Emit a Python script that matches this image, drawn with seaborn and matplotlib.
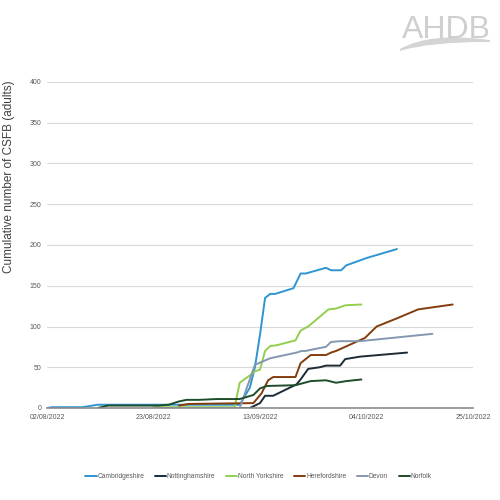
import pandas as pd
import matplotlib
matplotlib.use("Agg")
import matplotlib.pyplot as plt
import matplotlib.dates as mdates
from matplotlib.path import Path
from matplotlib.patches import PathPatch
import seaborn as sns

# days after 02/08/2022 and cumulative counts
start = pd.Timestamp("2022-08-02")

cambs_days = [0, 1, 7, 10, 38, 40, 41, 42, 43, 44, 45, 48.6, 50, 51, 55, 56, 58, 59, 63, 69]
cambs_vals = [0, 1, 1, 4, 4, 25, 50, 90, 135, 140, 140, 147, 165, 165, 172, 169, 169, 175, 184, 195]

notts_days = [32, 40, 42, 43, 44.6, 49.2, 50, 51.5, 53.8, 55, 57.8, 58.8, 61.7, 71]
notts_vals = [0, 0, 6, 15, 15, 29, 35, 48, 50, 52, 52, 60, 63, 68]

nyorks_days = [21, 37, 38, 40, 41, 42, 43, 44, 45.3, 49, 50, 51.5, 55.5, 57, 58.8, 62]
nyorks_vals = [1, 1, 31, 40, 45, 47, 70, 76, 77, 83, 95, 100, 121, 122, 126, 127]

heref_days = [26, 28, 40.7, 42.3, 43.6, 44.6, 49, 50, 52, 55, 56, 57, 62.7, 65, 69, 73.2, 80]
heref_vals = [3, 5, 6, 18, 34, 38, 38, 55, 65, 65, 68, 70, 86, 100, 110, 121, 127]

devon_days = [22, 38, 41, 44, 49.2, 50.2, 51, 52.5, 55, 56, 57.8, 61.7, 76]
devon_vals = [0, 0, 53, 61, 68, 70, 70, 72, 75, 81, 82, 82, 91]

norfolk_days = [10, 12, 22, 24, 26, 27.5, 30, 33.5, 38, 40.7, 42, 43.3, 49, 52, 55, 57, 59, 62]
norfolk_vals = [0, 3, 3, 4, 8, 10, 10, 11, 11, 16, 24, 27, 28, 33, 34, 31, 33, 35]

counties = ["Cambridgeshire", "Nottinghamshire", "North Yorkshire",
            "Herefordshire", "Devon", "Norfolk"]
colours = ["#2E95D0", "#1C2B36", "#92CF4F", "#843C0C", "#8497B0", "#1D4D2A"]

series = [(cambs_days, cambs_vals), (notts_days, notts_vals),
          (nyorks_days, nyorks_vals), (heref_days, heref_vals),
          (devon_days, devon_vals), (norfolk_days, norfolk_vals)]

rows = []
for name, (days, vals) in zip(counties, series):
    for d, v in zip(days, vals):
        rows.append({"date": start + pd.to_timedelta(d, unit="D"), "count": v, "county": name})
df = pd.DataFrame(rows)

sns.set_style("white")
plt.rcParams["font.family"] = ["Liberation Sans", "DejaVu Sans"]

fig = plt.figure(figsize=(5, 5), dpi=100)
ax = fig.add_axes([0.094, 0.184, 0.852, 0.652])

sns.lineplot(data=df, x="date", y="count", hue="county", hue_order=counties,
             palette=dict(zip(counties, colours)), estimator=None, sort=False,
             linewidth=1.4, ax=ax, legend=True)

ax.set_ylim(0, 400)
ax.set_yticks(range(0, 401, 50))
ax.set_xlim(start, start + pd.Timedelta(days=84))
ax.set_xticks([start + pd.Timedelta(days=21 * i) for i in range(5)])
ax.xaxis.set_major_formatter(mdates.DateFormatter("%d/%m/%Y"))
ax.yaxis.grid(True, color="#D9D9D9", linewidth=0.8)
ax.set_axisbelow(True)
for s in ["top", "right", "left"]:
    ax.spines[s].set_visible(False)
ax.spines["bottom"].set_color("#8C8C8C")
ax.spines["bottom"].set_linewidth(1.2)
ax.tick_params(axis="both", length=0, labelsize=5, labelcolor="#595959", pad=4)

ax.set_xlabel("")
ax.set_ylabel("Cumulative number of CSFB (adults)", fontsize=8.5, color="#404040")
ax.yaxis.set_label_coords(-0.075, 0.71)

handles, labels = ax.get_legend_handles_labels()
ax.legend(handles, labels, loc="center", bbox_to_anchor=(0.517, 0.047),
          bbox_transform=fig.transFigure, ncol=6, frameon=False, fontsize=4.8,
          handlelength=1.7, handletextpad=0.1, columnspacing=1.6,
          labelcolor="#595959")

# AHDB logo
fig.text(0.892, 0.924, "AHDB", fontsize=23, color="#CFCFCF", ha="center",
         va="baseline", fontweight="medium", family=["Liberation Sans", "DejaVu Sans"])
swoosh = Path([(0.80, 0.900), (0.86, 0.935), (0.98, 0.918), (0.98, 0.918),
               (0.86, 0.918), (0.80, 0.900)],
              [Path.MOVETO, Path.CURVE3, Path.CURVE3, Path.LINETO, Path.CURVE3, Path.CURVE3])
fig.add_artist(PathPatch(swoosh, transform=fig.transFigure, facecolor="#D4D4D4",
                         edgecolor="#D4D4D4", linewidth=1.2))

fig.savefig("out.png", dpi=100)
